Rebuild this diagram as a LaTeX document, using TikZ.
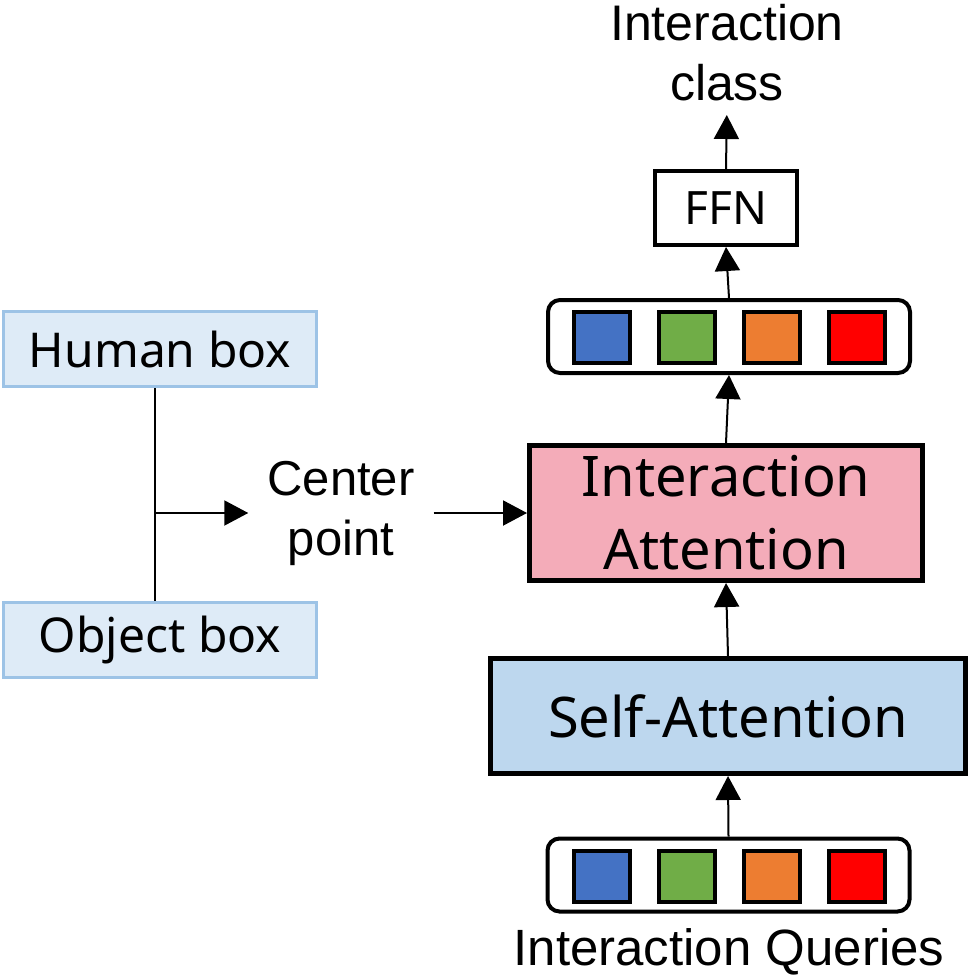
\documentclass[tikz,border=0pt]{standalone}
\usepackage{fontspec}
\setmainfont{Liberation Sans}
\newfontfamily\yhfont{Noto Sans}
\usetikzlibrary{positioning, arrows.meta}

\definecolor{boxblue}{RGB}{222,235,247}
\definecolor{boxedge}{RGB}{157,195,230}
\definecolor{attnpink}{RGB}{244,172,185}
\definecolor{selfblue}{RGB}{189,215,238}
\definecolor{qblue}{RGB}{68,114,196}
\definecolor{qgreen}{RGB}{112,173,71}
\definecolor{qorange}{RGB}{237,125,49}
\definecolor{qred}{RGB}{255,0,0}

\begin{document}
\begin{tikzpicture}[x=1pt, y=-1pt, >={Triangle[width=25pt,length=24pt]},
    inbox/.style={draw=boxedge, fill=boxblue, line width=3pt, minimum width=313pt, minimum height=75pt, inner sep=0pt, font=\yhfont\fontsize{48}{56}\selectfont},
    block/.style={draw, line width=5pt, inner sep=0pt, align=center, font=\yhfont\fontsize{56}{73}\selectfont},
    bank/.style={draw, line width=4pt, rounded corners=12pt, minimum width=362pt, minimum height=73pt},
    tok/.style={draw, line width=4pt, minimum width=56pt, minimum height=51pt, inner sep=0pt},
    lbl/.style={inner sep=0pt, align=center, font=\fontsize{50}{60}\selectfont},
    link/.style={->, line width=2pt}]
    \useasboundingbox (0,0) rectangle (969,979);

    % left input boxes
    \node[inbox] (human) at (160,349) {Human box};
    \node[inbox] (object) at (160,640) {Object box};
    \coordinate (mid) at (155,513);
    \node[lbl, inner xsep=19pt, font=\fontsize{49}{60}\selectfont] (center) at (341,513) {Center\\point};

    % main column
    \node[block, fill=attnpink, minimum width=393pt, minimum height=135pt] (iattn) at (726,513) {Interaction\\Attention};
    \node[block, fill=selfblue, minimum width=475pt, minimum height=115pt] (sattn) at (728,716) {Self-Attention};
    \node[block, line width=4pt, minimum width=142pt, minimum height=74pt, font=\yhfont\fontsize{46}{54}\selectfont] (ffn) at (726,208) {FFN};
    \node[bank] (obank) at (729,336.5) {};
    \node[bank] (qbank) at (728.5,875) {};
    \foreach \c [count=\i] in {qblue,qgreen,qorange,qred} {
        \node[tok, fill=\c] (o\i) at (602+85*\i-85,337.5) {};
        \node[tok, fill=\c] (q\i) at (602+85*\i-85,876) {};
    }
    \node[lbl, anchor=south] (cls) at (727,101) {Interaction\\class};
    \node[lbl, font=\fontsize{51}{60}\selectfont, anchor=base] (queries) at (729,965) {Interaction Queries};

    % connectors
    \draw[line width=2pt] (human.south -| mid) -- (object.north -| mid);
    \draw[link] (mid) -- (center.west);
    \draw[link] (center.east) -- (iattn.west);
    \draw[link] (qbank.north) -- (sattn.south);
    \draw[link] (sattn.north) -- (iattn.south);
    \draw[link] (iattn.north) -- (obank.south);
    \draw[link] (obank.north) -- (ffn.south);
    \draw[link, shorten >=14pt] (ffn.north) -- (cls.south);
\end{tikzpicture}
\end{document}
